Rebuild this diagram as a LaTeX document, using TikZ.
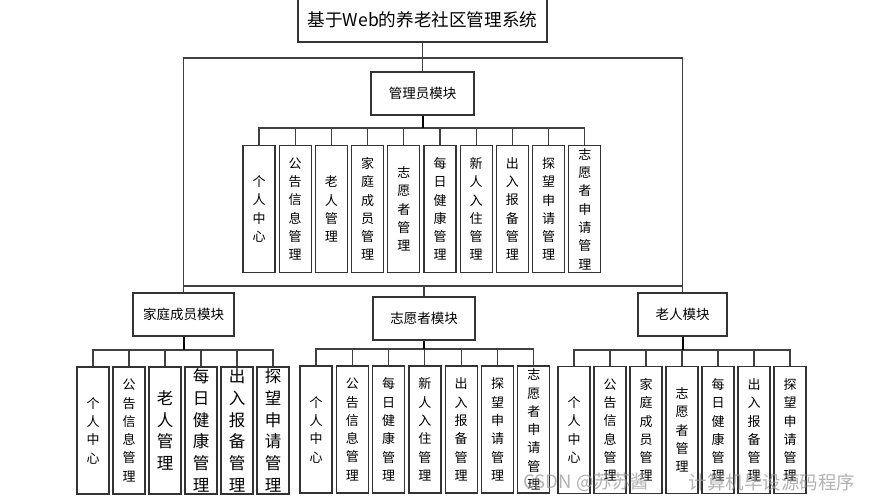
\documentclass[tikz,border=0pt]{standalone}
\usepackage{fontspec}
\setmainfont{Noto Sans CJK SC}
\usetikzlibrary{calc}

\begin{document}
\begin{tikzpicture}[x=1pt, y=-1pt,
	box/.style={shape=rectangle, draw=black!80, line width=1.3pt, inner sep=0pt, align=center},
	modbox/.style={box, minimum height=43pt, font=\fontsize{13.5}{16}\selectfont},
	leaf/.style={box, minimum width=32pt, minimum height=127pt, font=\fontsize{13}{18.3}\selectfont},
	bigleaf/.style={leaf, font=\fontsize{16.5}{21.7}\selectfont},
	wire/.style={draw=black!75, line width=1.1pt},
	stem/.style={draw=black, line width=2pt}]
	\useasboundingbox (0,0) rectangle (880,500);
	% System box and module boxes:
	\node[box, minimum width=249pt, minimum height=44pt, font=\fontsize{17.6}{20}\selectfont] (sys) at (422.5,20){基于Web的养老社区管理系统};
	\node[modbox, minimum width=103pt] (adm) at (422.5,93.5){管理员模块};
	\node[modbox, minimum width=101pt] (fam) at (183.5,314.5){家庭成员模块};
	\node[modbox, minimum width=102pt] (vol) at (424,318.5){志愿者模块};
	\node[modbox, minimum width=89pt] (old) at (682.5,314.5){老人模块};
	% Frame between the modules:
	\coordinate (top) at (422.5,58);
	\coordinate (low) at (424,286);
	\draw[wire] (sys) -- (adm);
	\draw[wire] (fam.north) |- (top) -| (old.north);
	\draw[wire] (low -| fam) -- (low -| old);
	\draw[wire] (low) -- (vol.north);
	% Admin functions:
	\foreach \t [count=\i] in {个\\人\\中\\心, 公\\告\\信\\息\\管\\理, 老\\人\\管\\理, 家\\庭\\成\\员\\管\\理, 志\\愿\\者\\管\\理, 每\\日\\健\\康\\管\\理, 新\\人\\入\\住\\管\\理, 出\\入\\报\\备\\管\\理, 探\\望\\申\\请\\管\\理, 志\\愿\\者\\申\\请\\管\\理}
		\node[leaf] (a\i) at ({259+36.2*(\i-1)},209){\t};
	\coordinate (abus) at (422.5,128);
	\foreach \i in {1,...,10} \draw[wire] (abus) -| (a\i.north);
	\draw[stem] (adm) -- (abus);
	% Family member functions:
	\foreach \t/\s [count=\i] in {个\\人\\中\\心/leaf, 公\\告\\信\\息\\管\\理/leaf, 老\\人\\管\\理/bigleaf, 每\\日\\健\\康\\管\\理/bigleaf, 出\\入\\报\\备\\管\\理/bigleaf, 探\\望\\申\\请\\管\\理/bigleaf}
		\node[\s] (f\i) at ({93+36*(\i-1)},430.5){\t};
	\coordinate (fbus) at (183.5,350);
	\foreach \i in {1,...,6} \draw[wire] (fbus) -| (f\i.north);
	\draw[stem] (fam) -- (fbus);
	% Volunteer functions:
	\foreach \t [count=\i] in {个\\人\\中\\心, 公\\告\\信\\息\\管\\理, 每\\日\\健\\康\\管\\理, 新\\人\\入\\住\\管\\理, 出\\入\\报\\备\\管\\理, 探\\望\\申\\请\\管\\理, 志\\愿\\者\\申\\请\\管\\理}
		\node[leaf] (v\i) at ({316+36.3*(\i-1)},429.5){\t};
	\coordinate (vbus) at (424,349);
	\foreach \i in {1,...,7} \draw[wire] (vbus) -| (v\i.north);
	\draw[stem] (vol) -- (vbus);
	% Elderly functions:
	\foreach \t [count=\i] in {个\\人\\中\\心, 公\\告\\信\\息\\管\\理, 家\\庭\\成\\员\\管\\理, 志\\愿\\者\\管\\理, 每\\日\\健\\康\\管\\理, 出\\入\\报\\备\\管\\理, 探\\望\\申\\请\\管\\理}
		\node[leaf] (e\i) at ({574+36*(\i-1)},430){\t};
	\coordinate (ebus) at (682.5,350);
	\foreach \i in {1,...,7} \draw[wire] (ebus) -| (e\i.north);
	\draw[stem] (old) -- (ebus);
	% Watermark:
	\node[anchor=west, text=black!40, text opacity=0.75, font=\fontsize{18.5}{20}\selectfont] (wm1) at (520,482){CSDN @苏苏酱};
	\node[anchor=west, text=black!40, text opacity=0.75, font=\fontsize{18.5}{20}\selectfont] (wm2) at (685,482){计算机毕设源码程序};
\end{tikzpicture}
\end{document}
